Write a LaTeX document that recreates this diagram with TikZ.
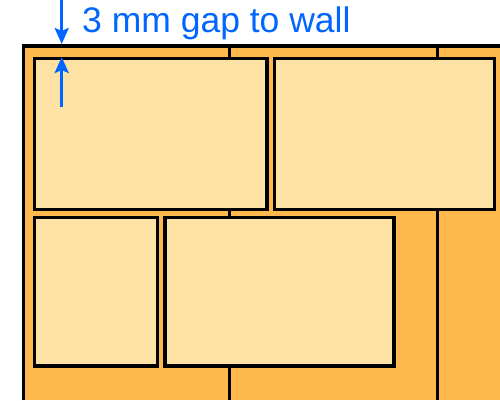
\documentclass[tikz,border=0pt]{standalone}
\usepackage{fontspec}
\setmainfont{Liberation Sans}
\usetikzlibrary{arrows.meta}
\definecolor{wallorange}{RGB}{255,184,77}
\definecolor{tilefill}{RGB}{253,225,165}
\definecolor{dimblue}{RGB}{0,102,255}
\tikzset{
  tile/.style={draw=black,fill=tilefill,line width=3.2pt,inner sep=0pt,anchor=center},
  divider/.style={draw=black,line width=3pt},
  wallline/.style={draw=black,line width=3.5pt},
  dimarrow/.style={draw=dimblue,line width=3pt,-{Stealth[length=16pt,width=14pt,inset=3pt]}},
}
\begin{document}
\begin{tikzpicture}[x=1pt,y=-1pt]
\useasboundingbox (0,0) rectangle (500,400);
% wall background
\fill[wallorange] (23.7,46) rectangle (500,400);
% hidden divider lines
\draw[divider] (229.7,46) -- (229.7,400);
\draw[divider] (437,46) -- (437,400);
% wall edge
\draw[wallline] (23.7,400) -- (23.7,46) -- (500,46);
% tiles
\node[tile,minimum width=232.5pt,minimum height=151pt] (tA) at (150.75,134) {};
\node[tile,minimum width=220pt,minimum height=151pt] (tB) at (384.5,134) {};
\node[tile,minimum width=123.4pt,minimum height=148.7pt] (tC) at (96,291.65) {};
\node[tile,minimum width=229pt,minimum height=148.7pt] (tD) at (279.5,291.65) {};
% dimension
\coordinate (dtop) at (61.7,0);
\coordinate (dwall) at (61.7,44);
\coordinate (dtile) at (61.7,57);
\coordinate (dtail) at (61.7,107);
\draw[dimarrow] (dtop) -- (dwall);
\draw[dimarrow] (dtail) -- (dtile);
\node[anchor=base west,inner sep=0pt,text=dimblue,font=\fontsize{35.5pt}{40pt}\selectfont] (lbl) at (82,32.5) {3 mm gap to wall};
\end{tikzpicture}
\end{document}
